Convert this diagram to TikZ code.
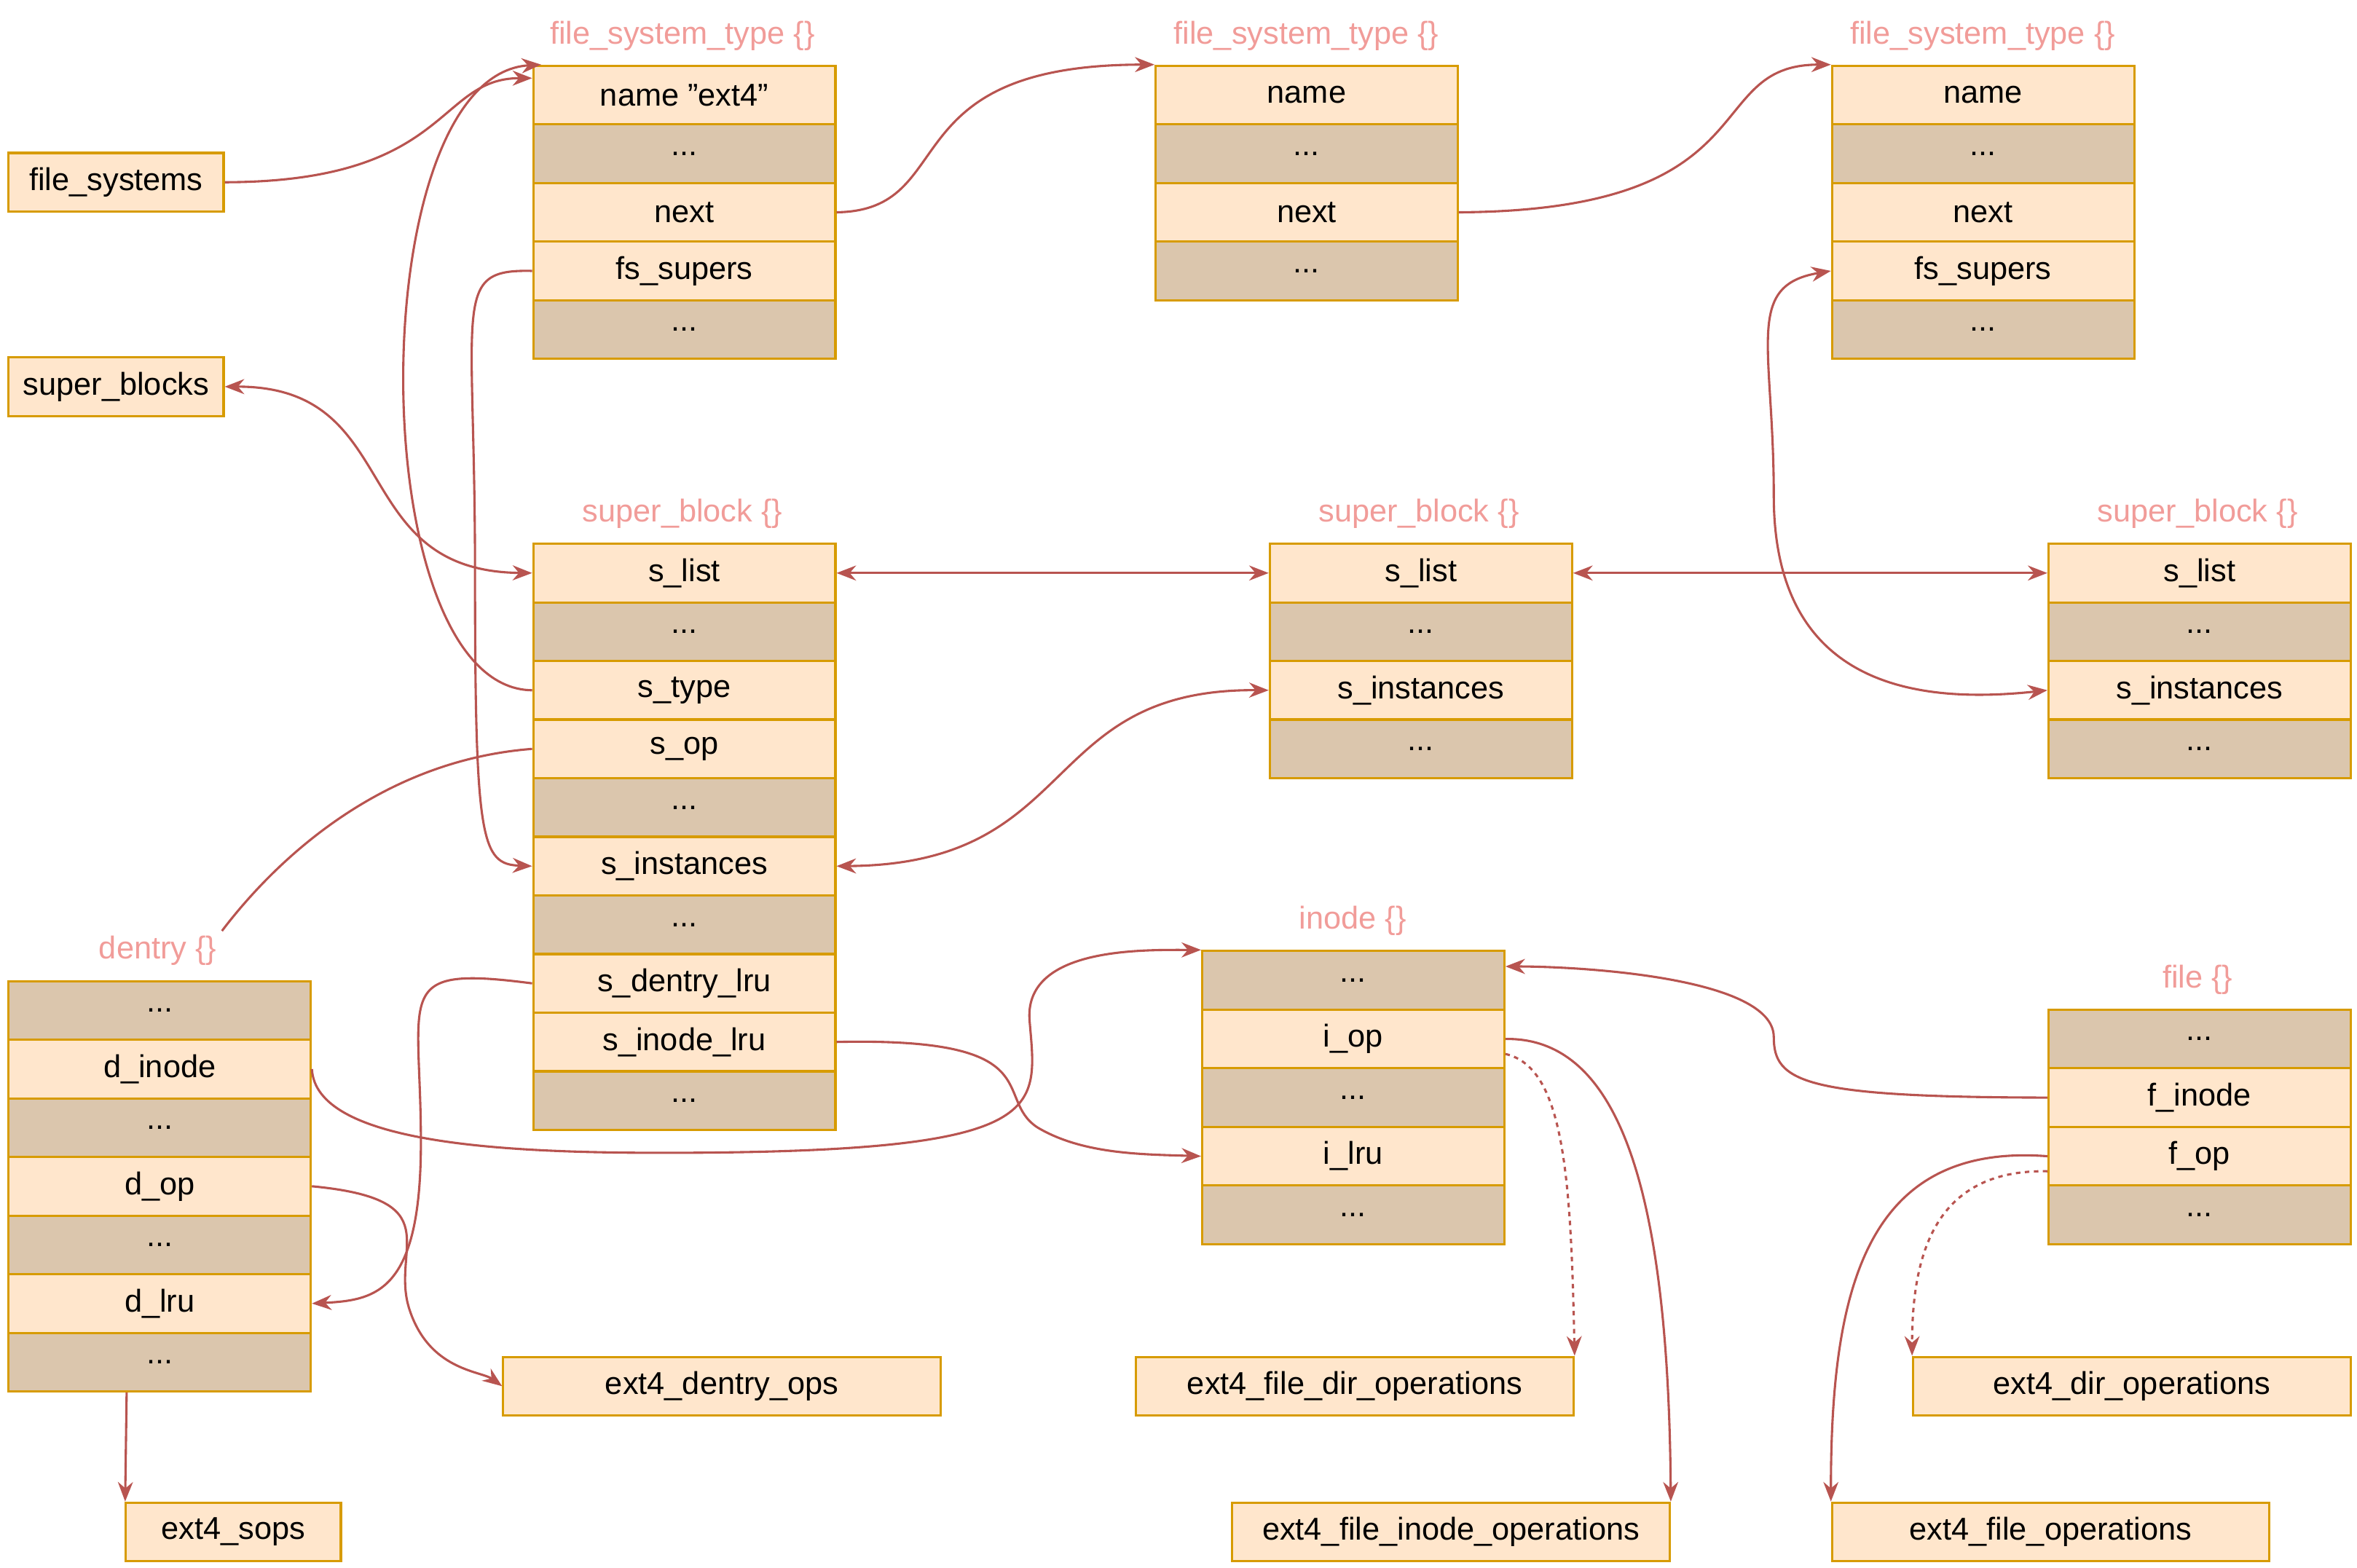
\documentclass[tikz,border=0pt]{standalone}
\usepackage{fontspec}
\setmainfont{Liberation Sans}
\usetikzlibrary{arrows.meta}
\definecolor{lf}{HTML}{FFE6CC}
\definecolor{df}{HTML}{DBC6AD}
\definecolor{st}{HTML}{D79B00}
\definecolor{ar}{HTML}{B85450}
\definecolor{tt}{HTML}{F19C99}
\newcommand\ddd{...}
\tikzset{
 x=1pt,y=-1pt,
 cell/.style={draw=st,line width=1.5pt,minimum width=201pt,minimum height=39pt,anchor=north west,inner sep=0pt,font=\fontsize{21}{25}\selectfont},
 lt/.style={cell,fill=lf},
 dk/.style={cell,fill=df},
 ttl/.style={text=tt,font=\fontsize{21}{25}\selectfont,anchor=south},
 con/.style={draw=ar,line width=1.5pt,-{Stealth[length=13pt,width=10pt]}},
 bcon/.style={con,{Stealth[length=13pt,width=10pt]}-{Stealth[length=13pt,width=10pt]}},
}
\newcommand\tbl[4]{% prefix, x, y, list of style/text
 \foreach \s/\t [count=\i from 0] in {#4}{
  \node[\s] (#1\i) at (#2,#3+39*\i) {\t};
 }}
\begin{document}
\begin{tikzpicture}
\useasboundingbox (0,0) rectangle (1568,1043);
% titles
\node[ttl] (t1) at (454,37) {file\_system\_type \{\}};
\node[ttl] (t2) at (869,37) {file\_system\_type \{\}};
\node[ttl] (t3) at (1319,37) {file\_system\_type \{\}};
\node[ttl] (t4) at (454,355) {super\_block \{\}};
\node[ttl] (t5) at (944,355) {super\_block \{\}};
\node[ttl] (t6) at (1462,355) {super\_block \{\}};
\node[ttl] (t7) at (900,626) {inode \{\}};
\node[ttl] (t8) at (1462,665) {file \{\}};
\node[ttl] (t9) at (105,646) {dentry \{\}};
% tables
\tbl{a}{354}{43}{lt/name "ext4",dk/\ddd,lt/next,lt/fs\_supers,dk/\ddd}
\tbl{b}{768}{43}{lt/name,dk/\ddd,lt/next,dk/\ddd}
\tbl{c}{1218}{43}{lt/name,dk/\ddd,lt/next,lt/fs\_supers,dk/\ddd}
\tbl{s}{354}{361}{lt/s\_list,dk/\ddd,lt/s\_type,lt/s\_op,dk/\ddd,lt/s\_instances,dk/\ddd,lt/s\_dentry\_lru,lt/s\_inode\_lru,dk/\ddd}
\tbl{u}{844}{361}{lt/s\_list,dk/\ddd,lt/s\_instances,dk/\ddd}
\tbl{v}{1362}{361}{lt/s\_list,dk/\ddd,lt/s\_instances,dk/\ddd}
\tbl{d}{5}{652}{dk/\ddd,lt/d\_inode,dk/\ddd,lt/d\_op,dk/\ddd,lt/d\_lru,dk/\ddd}
\tbl{i}{799}{632}{dk/\ddd,lt/i\_op,dk/\ddd,lt/i\_lru,dk/\ddd}
\tbl{f}{1362}{671}{dk/\ddd,lt/f\_inode,lt/f\_op,dk/\ddd}
% single boxes
\node[lt,minimum width=143pt] (fs) at (5,101) {file\_systems};
\node[lt,minimum width=143pt] (sb) at (5,237) {super\_blocks};
\node[lt,minimum width=291pt] (edo) at (334,902) {ext4\_dentry\_ops};
\node[lt,minimum width=291pt] (efd) at (755,902) {ext4\_file\_dir\_operations};
\node[lt,minimum width=291pt] (edr) at (1272,902) {ext4\_dir\_operations};
\node[lt,minimum width=143pt] (eso) at (83,999) {ext4\_sops};
\node[lt,minimum width=291pt] (efi) at (819,999) {ext4\_file\_inode\_operations};
\node[lt,minimum width=291pt] (efo) at (1218,999) {ext4\_file\_operations};
% connectors
\draw[con] (fs.east) .. controls (300,121) and (290,52) .. ([yshift=-9pt]a0.north west);
\draw[con] (s2.west) .. controls (240,458) and (240,50) .. ([xshift=6pt]a0.north west);
\draw[con] (a2.east) .. controls (640,140) and (590,43) .. (b0.north west);
\draw[con] (b2.east) .. controls (1180,140) and (1130,43) .. (c0.north west);
\draw[con] (a3.west) .. controls (300,179) and (316,200) .. (316,380) .. controls (316,560) and (320,575) .. (s5.west);
\draw[bcon] (sb.east) .. controls (270,257) and (230,380) .. (s0.west);
\draw[bcon] (s0.east) -- (u0.west);
\draw[bcon] (u0.east) -- (v0.west);
\draw[bcon] (s5.east) .. controls (720,575) and (690,458) .. (u2.west);
\draw[bcon] (c3.west) .. controls (1160,190) and (1180,230) .. (1180,330) .. controls (1180,460) and (1280,468) .. (v2.west);
\draw[draw=ar,line width=1.5pt] (s3.west) .. controls (240,507) and (170,590) .. (t9.north east);
\draw[con] (s7.west) .. controls (260,642) and (280,660) .. (280,760) .. controls (280,860) and (250,865) .. (d5.east);
\draw[con] (s8.east) .. controls (700,690) and (660,730) .. (690,750) .. controls (720,768) and (760,768) .. (i3.west);
\draw[con] (d1.east) .. controls (210,760) and (330,767) .. (440,767) .. controls (700,767) and (690,740) .. (685,680) .. controls (680,630) and (760,632) .. (i0.north west);
\draw[con] (d3.east) .. controls (300,798) and (260,830) .. (272,870) .. controls (285,912) and (320,912) .. (edo.west);
\draw[con] ([xshift=-22pt]d6.south) -- ([xshift=-72pt]eso.north);
\draw[con] (i1.east) .. controls (1080,690) and (1110,800) .. (efi.north east);
\draw[con,dashed] ([yshift=-10pt]i1.east) .. controls (1040,710) and (1045,780) .. (efd.north east);
\draw[con] (f1.west) .. controls (1200,730) and (1180,720) .. (1180,690) .. controls (1180,650) and (1050,643) .. ([yshift=-11pt]i0.north east);
\draw[con] (f2.west) .. controls (1240,760) and (1218,860) .. (efo.north west);
\draw[con,dashed] ([yshift=-10pt]f2.west) .. controls (1290,778) and (1272,830) .. (edr.north west);
\end{tikzpicture}
\end{document}
